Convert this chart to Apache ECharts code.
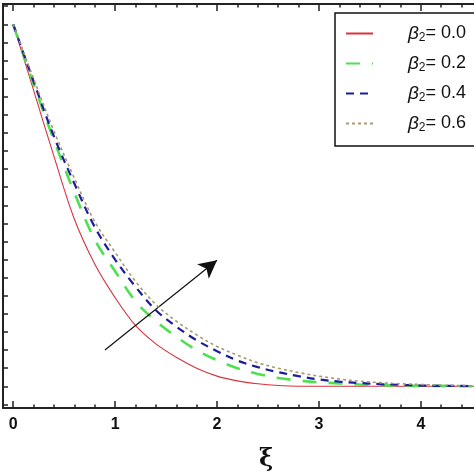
<!DOCTYPE html>
<html>
<head>
<meta charset="utf-8">
<script src="https://cdn.jsdelivr.net/npm/echarts@6/dist/echarts.min.js"></script>
<style>
html,body{margin:0;padding:0;background:#fff;}
#chart{width:474px;height:474px;}
</style>
</head>
<body>
<div id="chart"></div>
<script>
// ---- data ----
var xi = [0,0.2,0.4,0.6,0.8,1.0,1.2,1.4,1.6,1.8,2.0,2.2,2.4,2.6,2.8,3.0,3.2,3.4,3.6,3.8,4.0,4.2,4.4,4.6];
var beta00 = [1.0,0.818,0.635,0.462,0.338,0.245,0.168,0.117,0.08,0.05,0.028,0.015,0.007,0.002,0,0,0,0,0,0,0,0,0,0];
var beta02 = [1.0,0.835,0.68,0.535,0.405,0.318,0.235,0.18,0.137,0.1,0.072,0.05,0.034,0.023,0.016,0.011,0.008,0.005,0.003,0.002,0.001,0.001,0,0];
var beta04 = [1.0,0.842,0.69,0.56,0.44,0.35,0.275,0.21,0.165,0.127,0.097,0.071,0.053,0.039,0.028,0.019,0.013,0.009,0.006,0.004,0.002,0.001,0.001,0];
var beta06 = [1.0,0.85,0.705,0.575,0.455,0.37,0.29,0.226,0.18,0.142,0.11,0.086,0.065,0.05,0.038,0.028,0.02,0.014,0.01,0.007,0.005,0.003,0.002,0.001];
var seriesNames = ['0.0','0.2','0.4','0.6'];
var xTickLabels = [0,1,2,3,4];
var xMinorTicks = [0,0.2,0.4,0.6,0.8,1,1.2,1.4,1.6,1.8,2,2.2,2.4,2.6,2.8,3,3.2,3.4,3.6,3.8,4,4.2,4.4,4.6];
var yTicks = [-0.05,0,0.05,0.1,0.15,0.2,0.25,0.3,0.35,0.4,0.45,0.5,0.55,0.6,0.65,0.7,0.75,0.8,0.85,0.9,0.95,1.0,1.05];
var arrowStart = [0.9, 0.1];
var arrowEnd = [2.0, 0.348];

function pairs(ys){ return xi.map(function(x,i){ return [x, ys[i]]; }); }

var X_MIN = -0.1, X_MAX = 4.6;
var axisColor = '#222';

function xAxisDef(pos, ticks, len, showLabel, showLine){
  return {
    type:'value', position:pos, min:X_MIN, max:X_MAX,
    axisLine:{show:showLine, onZero:false, lineStyle:{color:axisColor, width:2}},
    axisTick:{show:true, inside:true, length:len, customValues:ticks, lineStyle:{color:axisColor, width:1.5}},
    axisLabel:{show:showLabel, customValues:xTickLabels, margin:9, color:'#111', fontSize:16, fontWeight:'bold', fontFamily:'Liberation Sans'},
    splitLine:{show:false}
  };
}

var chart = echarts.init(document.getElementById('chart'));
var names = seriesNames.map(function(v){ return 'b' + v; });
var option = {
  animation:false,
  backgroundColor:'#fff',
  grid:{left:3, top:4, width:479, height:404, containLabel:false, outerBoundsMode:'none'},
  xAxis:[
    Object.assign(xAxisDef('bottom', xTickLabels, 7, true, true), {
      name:'ξ', nameLocation:'middle', nameGap:40,
      nameTextStyle:{fontSize:24, fontWeight:'bold', color:'#111', fontFamily:'DejaVu Serif', padding:[0,0,0,47]}
    }),
    xAxisDef('bottom', xMinorTicks, 3.5, false, false),
    xAxisDef('top', xTickLabels, 7, false, true),
    xAxisDef('top', xMinorTicks, 3.5, false, false)
  ],
  yAxis:{
    type:'value', min:-0.06, max:1.056,
    axisLine:{show:true, onZero:false, lineStyle:{color:axisColor, width:2}},
    axisTick:{show:true, inside:true, length:5, customValues:yTicks, lineStyle:{color:axisColor, width:1.5}},
    axisLabel:{show:false},
    splitLine:{show:false}
  },
  legend:{
    left:335, top:13, orient:'vertical',
    itemWidth:27, itemHeight:14, itemGap:10,
    padding:[11,200,12,10],
    borderColor:'#111', borderWidth:1.5,
    itemStyle:{opacity:0},
    data:names,
    formatter:function(n){ return '{sp|}{b|β}{s|2}{n|= ' + n.slice(1) + '}'; },
    textStyle:{
      rich:{
        sp:{width:30},
        b:{fontSize:19, fontStyle:'italic', fontFamily:'Liberation Sans', color:'#111'},
        s:{fontSize:12, fontFamily:'Liberation Sans', color:'#111', padding:[9,0,0,0]},
        n:{fontSize:18, fontFamily:'Liberation Sans', color:'#111'}
      }
    }
  },
  series:[
    {name:names[0], type:'line', data:pairs(beta00), smooth:0.35, showSymbol:false, symbol:'none',
     lineStyle:{color:'#d8333f', width:1.1, type:'solid'}, z:2},
    {name:names[1], type:'line', data:pairs(beta02), smooth:0.35, showSymbol:false, symbol:'none',
     lineStyle:{color:'#4de24d', width:2.6, type:[14,12]}, z:3},
    {name:names[2], type:'line', data:pairs(beta04), smooth:0.35, showSymbol:false, symbol:'none',
     lineStyle:{color:'#1c1ca0', width:2.2, type:[8,6]}, z:4},
    {name:names[3], type:'line', data:pairs(beta06), smooth:0.35, showSymbol:false, symbol:'none',
     lineStyle:{color:'#a89a6a', width:1.6, type:[3,3]}, z:5,
     markLine:{
       silent:true, symbol:['none','arrow'], symbolSize:[14,18],
       label:{show:false},
       lineStyle:{color:'#111', width:1.2, type:'solid'},
       data:[[{coord:arrowStart},{coord:arrowEnd}]]
     }}
  ]
};
chart.setOption(option);
</script>
</body>
</html>
